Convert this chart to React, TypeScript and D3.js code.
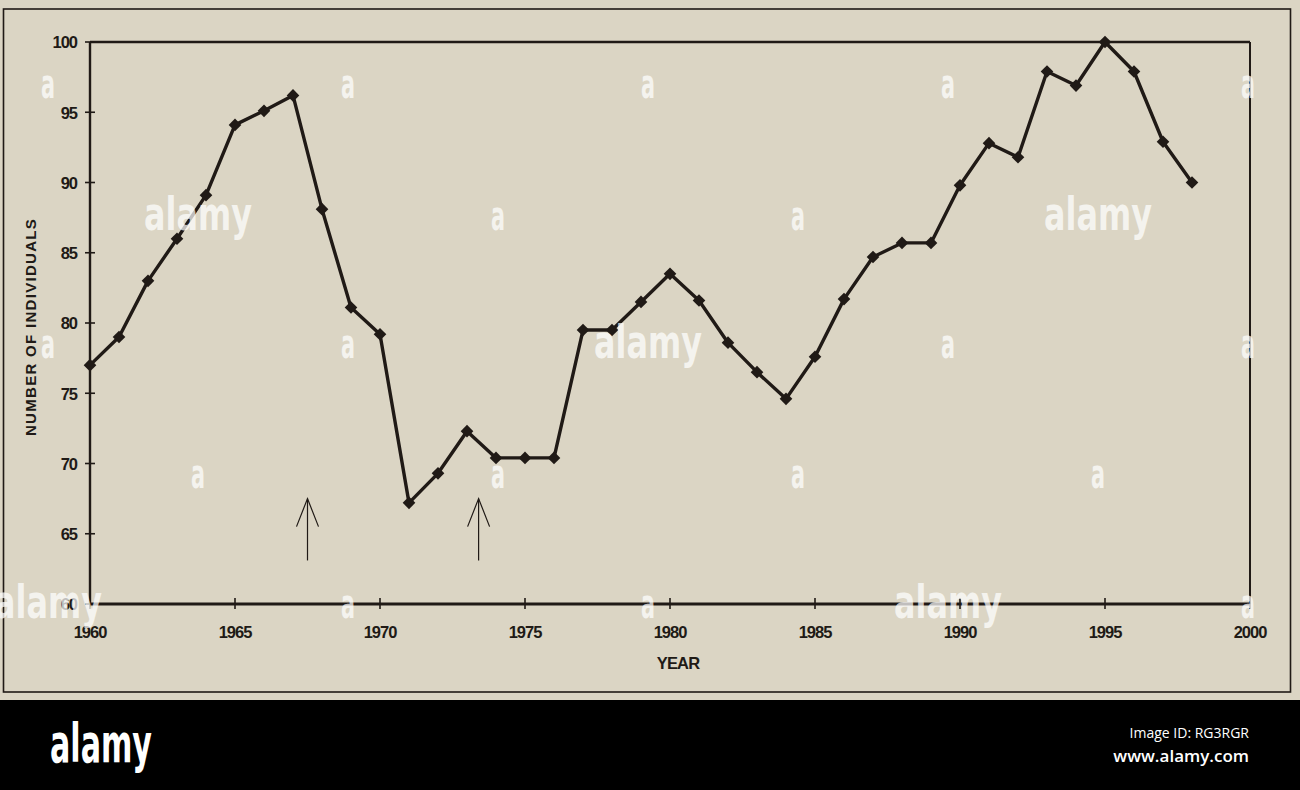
import React from 'react';
import * as d3 from 'd3';

const years = [1960, 1961, 1962, 1963, 1964, 1965, 1966, 1967, 1968, 1969,
  1970, 1971, 1972, 1973, 1974, 1975, 1976, 1977, 1978, 1979,
  1980, 1981, 1982, 1983, 1984, 1985, 1986, 1987, 1988, 1989,
  1990, 1991, 1992, 1993, 1994, 1995, 1996, 1997, 1998];
const individuals = [77, 79, 83, 86, 89.1, 94.1, 95.1, 96.2, 88.1, 81.1,
  79.2, 67.2, 69.3, 72.3, 70.4, 70.4, 70.4, 79.5, 79.5, 81.5,
  83.5, 81.6, 78.6, 76.5, 74.6, 77.6, 81.7, 84.7, 85.7, 85.7,
  89.8, 92.8, 91.8, 97.9, 96.9, 100, 97.9, 92.9, 90];
const xTicks = [1960, 1965, 1970, 1975, 1980, 1985, 1990, 1995, 2000];
const yTicks = [60, 65, 70, 75, 80, 85, 90, 95, 100];
const arrowYears = [1967.5, 1973.4];
const arrowFrom = 63.1;
const arrowTo = 67.5;
const xTitle = 'YEAR';
const yTitle = 'NUMBER OF INDIVIDUALS';

// watermark grid (stock-photo overlay)
const wmRows = [98, 230, 358, 488, 618];
const wmColsOdd = [48, 348, 648, 948, 1248];
const wmColsEven = [198, 498, 798, 1098];
const wmBig = ['2-0', '2-3', '3-2', '5-0', '5-3'];

const INK = '#201a16';
const PAPER = '#dbd5c4';

export default function App() {
  const x = d3.scaleLinear().domain([1960, 2000]).range([90, 1250]);
  const y = d3.scaleLinear().domain([60, 100]).range([604, 42]);
  const line = d3.line<number>().x((_, i) => x(years[i])).y(d => y(d));
  const marker = d3.symbol().type(d3.symbolSquare).size(80)();

  const tickFont = { fontFamily: '"Liberation Sans", Arial, sans-serif', fontWeight: 700, fontSize: 16.5, letterSpacing: -1 } as const;

  const wm: { x: number; y: number; big: boolean }[] = [];
  wmRows.forEach((ry, ri) => {
    const cols = ri % 2 === 0 ? wmColsOdd : wmColsEven;
    cols.forEach((cx, ci) => {
      wm.push({ x: cx, y: ry, big: wmBig.includes(`${ri + 1}-${ci}`) });
    });
  });

  return (
    <svg width={1300} height={790} style={{ position: 'absolute', left: 0, top: 0, display: 'block' }}>
      <rect x={0} y={0} width={1300} height={700} fill={PAPER} />
      {/* outer frame */}
      <rect x={3.5} y={9} width={1287} height={683} fill="none" stroke={INK} strokeWidth={1.6} />

      {/* plot frame */}
      <line x1={x(1960)} x2={x(2000)} y1={y(100)} y2={y(100)} stroke={INK} strokeWidth={2.4} />
      <line x1={x(2000)} x2={x(2000)} y1={y(100)} y2={y(60)} stroke={INK} strokeWidth={2} />
      <line x1={x(1960)} x2={x(1960)} y1={y(100)} y2={y(60)} stroke={INK} strokeWidth={2.4} />
      <line x1={x(1960)} x2={x(2000)} y1={y(60)} y2={y(60)} stroke={INK} strokeWidth={3.2} />

      {/* y ticks */}
      {yTicks.map(t => (
        <g key={'y' + t}>
          <line x1={x(1960) - 5} x2={x(1960) + 5} y1={y(t)} y2={y(t)} stroke={INK} strokeWidth={1.6} />
          <text x={x(1960) - 13} y={y(t)} dy="0.38em" textAnchor="end" fill={INK} style={tickFont}>{t}</text>
        </g>
      ))}
      {/* x ticks */}
      {xTicks.map(t => (
        <g key={'x' + t}>
          <line x1={x(t)} x2={x(t)} y1={y(60) - 6} y2={y(60) + 5} stroke={INK} strokeWidth={1.6} />
          <text x={x(t)} y={638} textAnchor="middle" fill={INK} style={tickFont}>{t}</text>
        </g>
      ))}

      {/* axis titles */}
      <text x={678} y={669} textAnchor="middle" fill={INK}
        style={{ fontFamily: '"Liberation Sans", Arial, sans-serif', fontWeight: 700, fontSize: 16.5, letterSpacing: -0.8 }}>{xTitle}</text>
      <text transform={`translate(36,${327}) rotate(-90)`} textAnchor="middle" fill={INK}
        style={{ fontFamily: '"Liberation Sans", Arial, sans-serif', fontWeight: 700, fontSize: 15, letterSpacing: 1.3 }}>{yTitle}</text>

      {/* arrows */}
      {arrowYears.map((a, i) => (
        <g key={'a' + i} stroke={INK} strokeWidth={1.2} fill="none">
          <line x1={x(a)} x2={x(a)} y1={y(arrowFrom)} y2={y(arrowTo)} />
          <polyline points={`${x(a) - 11},${y(arrowTo) + 28} ${x(a)},${y(arrowTo)} ${x(a) + 11},${y(arrowTo) + 28}`} />
        </g>
      ))}

      {/* data */}
      <path d={line(individuals) || ''} fill="none" stroke={INK} strokeWidth={3.4} strokeLinejoin="round" />
      {individuals.map((v, i) => (
        <path key={'m' + i} d={marker || ''} transform={`translate(${x(years[i])},${y(v)}) rotate(45)`} fill={INK} />
      ))}

      {/* watermarks */}
      {wm.map((w, i) => (
        <text key={'w' + i} x={w.x} y={w.y} textAnchor="middle" fill="#ffffff" fillOpacity={0.72}
          textLength={w.big ? 108 : 14} lengthAdjust="spacingAndGlyphs"
          style={{ fontFamily: '"DejaVu Sans", sans-serif', fontWeight: 700, fontSize: w.big ? 46 : 40 }}>{w.big ? 'alamy' : 'a'}</text>
      ))}

      {/* footer bar */}
      <rect x={0} y={700} width={1300} height={90} fill="#000000" />
      <text x={50} y={762} fill="#ffffff" textLength={102} lengthAdjust="spacingAndGlyphs"
        style={{ fontFamily: '"DejaVu Sans", sans-serif', fontWeight: 700, fontSize: 54 }}>alamy</text>
      <text x={1249} y={738} textAnchor="end" fill="#ffffff"
        style={{ fontFamily: '"Open Sans", "DejaVu Sans", sans-serif', fontSize: 14 }}>Image ID: RG3RGR</text>
      <text x={1249} y={762} textAnchor="end" fill="#ffffff"
        style={{ fontFamily: '"Open Sans", "DejaVu Sans", sans-serif', fontWeight: 600, fontSize: 17 }}>www.alamy.com</text>
    </svg>
  );
}
